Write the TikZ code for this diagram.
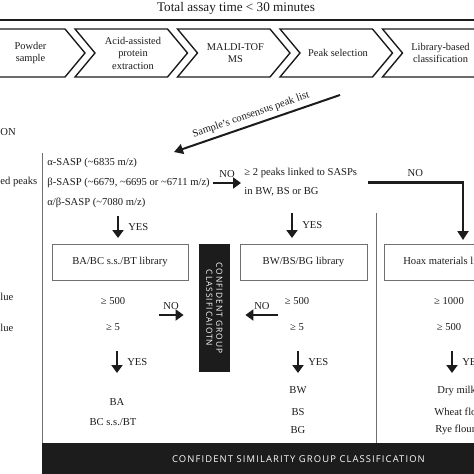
\documentclass[tikz,border=0pt]{standalone}
\usepackage{fontspec}
\setmainfont{Liberation Serif}
\newfontfamily\capsfont[LetterSpace=12]{Open Sans}
\usetikzlibrary{arrows.meta, positioning}
\definecolor{cink}{HTML}{1C1C1C}
\definecolor{cgrey}{HTML}{707070}
\tikzset{
  every picture/.style={x=1pt, y=-1pt, line width=0.8pt},
  txt/.style={font=\fontsize{10.6}{12}\selectfont, text=cink, inner sep=1pt},
  stagetxt/.style={font=\fontsize{10.4}{12.5}\selectfont, text=cink, align=center, inner sep=0pt},
  libbox/.style={draw=cgrey, line width=0.9pt, font=\fontsize{10.6}{12}\selectfont, text=cink, minimum height=36pt},
  chev/.style={draw=cink, line width=1.4pt, line join=miter},
  bigarrow/.style={-{Triangle[length=8pt, width=11pt]}, draw=cink, line width=2.6pt},
  darkbox/.style={fill=cink, text=white, inner sep=0pt},
  rule/.style={draw=cgrey, line width=0.9pt},
}

\begin{document}
\begin{tikzpicture}
  \useasboundingbox (0,0) rectangle (474,474);
  \clip (0,0) rectangle (474,474);
  \fill[white] (0,0) rectangle (474,474);
  % assay steps
  \node[txt, font=\fontsize{13.2}{15}\selectfont] (total) at (236,8.5) {Total assay time < 30 minutes};
  \draw[cink, line width=2.4pt] (0,20) -- (474,20);
  \foreach \i/\t in {0/{Powder\\sample}, 1/{Acid-assisted\\protein\\extraction}, 2/{MALDI-TOF\\MS}, 3/{Peak selection}, 4/{Library-based\\classification}} {
    \pgfmathsetmacro\xl{-27.5+102.5*\i}
    \draw[chev] (\xl,29) -- ++(92.5,0) -- ++(20,24) -- ++(-20,24) -- ++(-92.5,0) -- ++(20,-24) -- cycle;
    \node[stagetxt] (stage\i) at (\xl+58,53) {\t};
  }
  % consensus list
  \coordinate (listfrom) at (340,95);
  \coordinate (listto) at (174,152);
  \draw[-{Triangle[length=9pt, width=10pt]}, draw=cink, line width=2pt] (listfrom) -- (listto);
  \node[txt, rotate=19] (consensus) at (251,115) {Sample's consensus peak list};
  % cut-off text on the left
  \node[txt, anchor=west, inner sep=0pt] (fragon) at (0,132) {ON};
  \node[txt, anchor=west, inner sep=0pt] (fragpeaks) at (0,182) {ed peaks};
  \node[txt, anchor=west, inner sep=0pt] (fraglue) at (0,297) {lue};
  \node[txt, anchor=west, inner sep=0pt] (fraglueb) at (0,328) {lue};
  \draw[rule] (42,153) -- (42,474);
  \draw[rule] (376,213) -- (376,443);
  % first check
  \node[txt, anchor=west] (asasp) at (46,163) {α-SASP (\textasciitilde6835 m/z)};
  \node[txt, anchor=west] (bsasp) at (46,183) {β-SASP (\textasciitilde6679, \textasciitilde6695 or \textasciitilde6711 m/z)};
  \node[txt, anchor=west] (absasp) at (46,203) {α/β-SASP (\textasciitilde7080 m/z)};
  \node[txt, anchor=west, align=left, font=\fontsize{10.6}{19}\selectfont] (twopk) at (243,182.5) {≥ 2 peaks linked to SASPs\\in BW, BS or BG};
  \draw[bigarrow] ([xshift=2pt]bsasp.east) -- ([xshift=-2pt]bsasp.east -| twopk.west) node[txt, midway, above=3pt] {NO};
  \coordinate (hoaxin) at (463,240);
  \draw[cink, line width=2.2pt, -{Triangle[length=9pt, width=11pt]}] ([xshift=9pt]twopk.east) -| (hoaxin) node[txt, pos=0.25, above=4pt] {NO};
  % libraries
  \node[libbox, minimum width=136pt] (balib) at (120,262) {BA/BC s.s./BT library};
  \node[libbox, minimum width=127pt] (bwlib) at (303.5,262) {BW/BS/BG library};
  \node[libbox, minimum width=134pt] (hoaxlib) at (451,262) {Hoax materials library};
  \node[darkbox, rotate=-90, minimum width=128pt, minimum height=31pt, align=center, font=\capsfont\fontsize{8.4}{10}\selectfont] (gbox) at (214.5,308) {CONFIDENT GROUP\\CLASSIFICAIOTN};
  \foreach \x/\ya/\yb in {118/216/238, 292/213/238, 117/351/373, 298/351/373, 452/351/373}
    \draw[bigarrow] (\x,\ya) -- (\x,\yb) node[txt, midway, right=8pt] {YES};
  % thresholds
  \node[txt] (bascore) at (113,301) {≥ 500};
  \node[txt] (bapeaks) at (113,327) {≥ 5};
  \node[txt] (bwscore) at (297,301) {≥ 500};
  \node[txt] (bwpeaks) at (297,327) {≥ 5};
  \node[txt] (hoaxscore) at (449,301) {≥ 1000};
  \node[txt] (hoaxpeaks) at (449,327) {≥ 500};
  \draw[bigarrow] ([xshift=32pt]bascore.east |- 0,315) -- ([xshift=-15pt]gbox.south |- 0,315) node[txt, midway, above=3pt] {NO};
  \draw[bigarrow] ([xshift=-5pt]bwscore.west |- 0,315) -- ([xshift=15pt]gbox.north |- 0,315) node[txt, midway, above=3pt] {NO};
  % results
  \node[txt] (ba) at (117,402) {BA};
  \node[txt] (bcss) at (113,422) {BC s.s./BT};
  \node[txt] (bw) at (298,390) {BW};
  \node[txt] (bs) at (298,412) {BS};
  \node[txt] (bg) at (298,430) {BG};
  \node[txt, anchor=west] (milk) at (436,391) {Dry milk};
  \node[txt, anchor=west] (wheat) at (433,412) {Wheat flour};
  \node[txt, anchor=west] (rye) at (434,430) {Rye flour};
  \node[darkbox, anchor=north west, minimum width=512pt, minimum height=32pt, font=\capsfont\fontsize{9.4}{11}\selectfont] (band) at (42,443) {CONFIDENT SIMILARITY GROUP CLASSIFICATION};
\end{tikzpicture}
\end{document}
